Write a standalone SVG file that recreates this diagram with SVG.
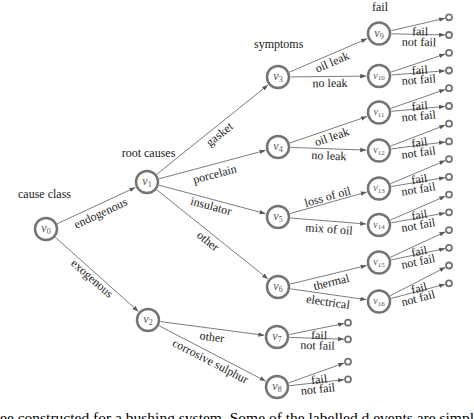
<svg xmlns="http://www.w3.org/2000/svg" width="474" height="419" viewBox="0 0 474 419">
<style>
text{font-family:"Liberation Serif","Times New Roman",serif;font-size:12px;fill:#1a1a1a}
.n{fill:#fff;stroke:#747474;stroke-width:2.5}
.lf{fill:#fff;stroke:#747474;stroke-width:1.8}
.e{stroke:#5a5a5a;stroke-width:0.8;fill:none;marker-end:url(#ah)}
.nl{fill:#555;text-anchor:middle}
.nl2{fill:#555;text-anchor:middle;font-size:10px}
.el{text-anchor:middle}
.cap{font-size:15px;fill:#000}
</style>
<defs>
<marker id="ah" markerUnits="userSpaceOnUse" markerWidth="6" markerHeight="5" refX="6" refY="2.25" orient="auto">
<path d="M0,0 L6,2.25 L0,4.5 z" fill="#5a5a5a"/>
</marker>
</defs>
<rect width="474" height="419" fill="#fff"/>

<g id="headers">
<text x="18" y="198">cause class</text>
<text x="121.7" y="156.5">root causes</text>
<text x="254" y="47.5">symptoms</text>
<text x="372" y="10.5">fail</text>
</g>

<g id="connectors">
<line class="e" x1="57.3" y1="223.7" x2="135.4" y2="187.4"/>
<line class="e" x1="55.3" y1="237.3" x2="138.4" y2="311.5"/>
<line class="e" x1="156.8" y1="174.2" x2="268.0" y2="85.0"/>
<line class="e" x1="159.1" y1="178.8" x2="265.6" y2="150.3"/>
<line class="e" x1="159.1" y1="185.2" x2="265.6" y2="213.7"/>
<line class="e" x1="156.8" y1="189.8" x2="268.0" y2="279.0"/>
<line class="e" x1="160.4" y1="321.6" x2="264.3" y2="335.3"/>
<line class="e" x1="159.1" y1="325.8" x2="265.6" y2="381.1"/>
<line class="e" x1="289.5" y1="72.1" x2="367.2" y2="38.6"/>
<line class="e" x1="290.5" y1="76.9" x2="366.2" y2="76.1"/>
<line class="e" x1="289.8" y1="143.0" x2="366.9" y2="116.6"/>
<line class="e" x1="290.5" y1="147.4" x2="366.2" y2="150.1"/>
<line class="e" x1="290.0" y1="213.6" x2="366.7" y2="192.0"/>
<line class="e" x1="290.5" y1="218.0" x2="366.2" y2="224.0"/>
<line class="e" x1="290.2" y1="284.1" x2="366.6" y2="265.5"/>
<line class="e" x1="290.4" y1="288.8" x2="366.3" y2="299.7"/>
<line class="e" x1="391.2" y1="30.7" x2="445.1" y2="18.2"/>
<line class="e" x1="391.5" y1="33.8" x2="445.0" y2="34.9"/>
<line class="e" x1="390.9" y1="72.1" x2="445.2" y2="54.1"/>
<line class="e" x1="391.5" y1="75.0" x2="445.0" y2="70.8"/>
<line class="e" x1="390.8" y1="108.4" x2="445.2" y2="89.5"/>
<line class="e" x1="391.4" y1="111.3" x2="445.0" y2="106.4"/>
<line class="e" x1="390.7" y1="146.0" x2="445.3" y2="125.1"/>
<line class="e" x1="391.4" y1="148.9" x2="445.0" y2="141.9"/>
<line class="e" x1="390.5" y1="183.7" x2="445.3" y2="160.6"/>
<line class="e" x1="391.3" y1="186.5" x2="445.1" y2="177.6"/>
<line class="e" x1="390.5" y1="220.0" x2="445.3" y2="196.2"/>
<line class="e" x1="391.3" y1="222.8" x2="445.1" y2="213.0"/>
<line class="e" x1="390.3" y1="257.3" x2="445.4" y2="231.8"/>
<line class="e" x1="391.2" y1="259.9" x2="445.1" y2="248.6"/>
<line class="e" x1="390.1" y1="295.8" x2="445.4" y2="267.3"/>
<line class="e" x1="391.1" y1="298.4" x2="445.1" y2="284.3"/>
<line class="e" x1="289.3" y1="334.5" x2="344.1" y2="323.5"/>
<line class="e" x1="289.5" y1="337.4" x2="344.0" y2="339.2"/>
<line class="e" x1="288.8" y1="382.8" x2="344.2" y2="363.0"/>
<line class="e" x1="289.4" y1="385.7" x2="344.0" y2="379.7"/>
</g>

<g id="edge-labels">
<text class="el" transform="translate(101,214) rotate(-24.9)" y="3">endogenous</text>
<text class="el" transform="translate(91.5,279) rotate(41.7)" y="3">exogenous</text>
<text class="el" transform="translate(220,135) rotate(-38.7)" y="3">gasket</text>
<text class="el" transform="translate(215,175) rotate(-15)" y="3">porcelain</text>
<text class="el" transform="translate(211,206) rotate(15)" y="4">insulator</text>
<text class="el" transform="translate(208,241) rotate(38.7)" y="4">other</text>
<text class="el" transform="translate(212,337) rotate(7.5)" y="4">other</text>
<text class="el" transform="translate(210,362) rotate(27.4)" y="3">corrosive sulphur</text>
<text class="el" transform="translate(332,62) rotate(-23.3)" y="4">oil leak</text>
<text class="el" transform="translate(330,83) rotate(-0.6)" y="4">no leak</text>
<text class="el" transform="translate(331.7,136.7) rotate(-18.9)" y="4">oil leak</text>
<text class="el" transform="translate(329,155.7) rotate(2)" y="4">no leak</text>
<text class="el" transform="translate(327.5,196.7) rotate(-15.8)" y="4">loss of oil</text>
<text class="el" transform="translate(329,229) rotate(4.5)" y="4">mix of oil</text>
<text class="el" transform="translate(331.5,283) rotate(-13.6)" y="3">thermal</text>
<text class="el" transform="translate(328,302) rotate(8.2)" y="4">electrical</text>

<text class="el" transform="translate(420,35.4) rotate(1.2)">fail</text>
<text class="el" transform="translate(419,46) rotate(1.2)">not fail</text>
<text class="el" transform="translate(420,74) rotate(-4.5)">fail</text>
<text class="el" transform="translate(419,83.5) rotate(-4.5)">not fail</text>
<text class="el" transform="translate(420,109.9) rotate(-5.3)">fail</text>
<text class="el" transform="translate(419,120) rotate(-5.3)">not fail</text>
<text class="el" transform="translate(420,146.4) rotate(-7.4)">fail</text>
<text class="el" transform="translate(419,156.5) rotate(-7.4)">not fail</text>
<text class="el" transform="translate(420,182.9) rotate(-9.4)">fail</text>
<text class="el" transform="translate(419,193) rotate(-9.4)">not fail</text>
<text class="el" transform="translate(420,218.8) rotate(-10.3)">fail</text>
<text class="el" transform="translate(419,229) rotate(-10.3)">not fail</text>
<text class="el" transform="translate(420,255.1) rotate(-11.9)">fail</text>
<text class="el" transform="translate(419,265.3) rotate(-11.9)">not fail</text>
<text class="el" transform="translate(420,292) rotate(-14.6)">fail</text>
<text class="el" transform="translate(419,302) rotate(-14.6)">not fail</text>
<text class="el" transform="translate(319,339.2) rotate(1.9)">fail</text>
<text class="el" transform="translate(317.5,349.3) rotate(1.9)">not fail</text>
<text class="el" transform="translate(319.5,383.3) rotate(-6.2)">fail</text>
<text class="el" transform="translate(318.3,393) rotate(-6.2)">not fail</text>
</g>

<g id="v0"><circle class="n" cx="46" cy="229" r="11"/><text class="nl" x="46" y="232"><tspan font-style="italic">v</tspan><tspan font-size="8" dy="2">0</tspan></text></g>
<g id="v1"><circle class="n" cx="147" cy="182" r="11"/><text class="nl" x="147" y="185"><tspan font-style="italic">v</tspan><tspan font-size="8" dy="2">1</tspan></text></g>
<g id="v2"><circle class="n" cx="148" cy="320" r="11"/><text class="nl" x="148" y="323"><tspan font-style="italic">v</tspan><tspan font-size="8" dy="2">2</tspan></text></g>
<g id="v3"><circle class="n" cx="278" cy="77" r="11"/><text class="nl" x="278" y="80"><tspan font-style="italic">v</tspan><tspan font-size="8" dy="2">3</tspan></text></g>
<g id="v4"><circle class="n" cx="278" cy="147" r="11"/><text class="nl" x="278" y="150"><tspan font-style="italic">v</tspan><tspan font-size="8" dy="2">4</tspan></text></g>
<g id="v5"><circle class="n" cx="278" cy="217" r="11"/><text class="nl" x="278" y="220"><tspan font-style="italic">v</tspan><tspan font-size="8" dy="2">5</tspan></text></g>
<g id="v6"><circle class="n" cx="278" cy="287" r="11"/><text class="nl" x="278" y="290"><tspan font-style="italic">v</tspan><tspan font-size="8" dy="2">6</tspan></text></g>
<g id="v7"><circle class="n" cx="277" cy="337" r="11"/><text class="nl" x="277" y="340"><tspan font-style="italic">v</tspan><tspan font-size="8" dy="2">7</tspan></text></g>
<g id="v8"><circle class="n" cx="277" cy="387" r="11"/><text class="nl" x="277" y="390"><tspan font-style="italic">v</tspan><tspan font-size="8" dy="2">8</tspan></text></g>
<g id="v9"><circle class="n" cx="379" cy="33.5" r="11"/><text class="nl" x="379" y="36.5"><tspan font-style="italic">v</tspan><tspan font-size="8" dy="2">9</tspan></text></g>
<g id="v10"><circle class="n" cx="379" cy="76" r="11"/><text class="nl2" x="379" y="78.5"><tspan font-style="italic">v</tspan><tspan font-size="7" dy="1.5">10</tspan></text></g>
<g id="v11"><circle class="n" cx="379" cy="112.5" r="11"/><text class="nl2" x="379" y="115"><tspan font-style="italic">v</tspan><tspan font-size="7" dy="1.5">11</tspan></text></g>
<g id="v12"><circle class="n" cx="379" cy="150.5" r="11"/><text class="nl2" x="379" y="153"><tspan font-style="italic">v</tspan><tspan font-size="7" dy="1.5">12</tspan></text></g>
<g id="v13"><circle class="n" cx="379" cy="188.5" r="11"/><text class="nl2" x="379" y="191"><tspan font-style="italic">v</tspan><tspan font-size="7" dy="1.5">13</tspan></text></g>
<g id="v14"><circle class="n" cx="379" cy="225" r="11"/><text class="nl2" x="379" y="227.5"><tspan font-style="italic">v</tspan><tspan font-size="7" dy="1.5">14</tspan></text></g>
<g id="v15"><circle class="n" cx="379" cy="262.5" r="11"/><text class="nl2" x="379" y="265"><tspan font-style="italic">v</tspan><tspan font-size="7" dy="1.5">15</tspan></text></g>
<g id="v16"><circle class="n" cx="379" cy="301.5" r="11"/><text class="nl2" x="379" y="304"><tspan font-style="italic">v</tspan><tspan font-size="7" dy="1.5">16</tspan></text></g>

<g id="leaves">
<g id="l1"><circle class="lf" cx="449" cy="17.3" r="3"/></g>
<g id="l2"><circle class="lf" cx="449" cy="35.0" r="3"/></g>
<g id="l3"><circle class="lf" cx="449" cy="52.8" r="3"/></g>
<g id="l4"><circle class="lf" cx="449" cy="70.5" r="3"/></g>
<g id="l5"><circle class="lf" cx="449" cy="88.2" r="3"/></g>
<g id="l6"><circle class="lf" cx="449" cy="106.0" r="3"/></g>
<g id="l7"><circle class="lf" cx="449" cy="123.7" r="3"/></g>
<g id="l8"><circle class="lf" cx="449" cy="141.4" r="3"/></g>
<g id="l9"><circle class="lf" cx="449" cy="159.1" r="3"/></g>
<g id="l10"><circle class="lf" cx="449" cy="176.9" r="3"/></g>
<g id="l11"><circle class="lf" cx="449" cy="194.6" r="3"/></g>
<g id="l12"><circle class="lf" cx="449" cy="212.3" r="3"/></g>
<g id="l13"><circle class="lf" cx="449" cy="230.1" r="3"/></g>
<g id="l14"><circle class="lf" cx="449" cy="247.8" r="3"/></g>
<g id="l15"><circle class="lf" cx="449" cy="265.5" r="3"/></g>
<g id="l16"><circle class="lf" cx="449" cy="283.3" r="3"/></g>
<g id="l17"><circle class="lf" cx="348" cy="322.7" r="3"/></g>
<g id="l18"><circle class="lf" cx="348" cy="339.3" r="3"/></g>
<g id="l19"><circle class="lf" cx="348" cy="361.7" r="3"/></g>
<g id="l20"><circle class="lf" cx="348" cy="379.3" r="3"/></g>
</g>

<text class="cap" x="0" y="423" textLength="474" lengthAdjust="spacingAndGlyphs">ee constructed for a bushing system. Some of the labelled d events are simpl</text>
</svg>
